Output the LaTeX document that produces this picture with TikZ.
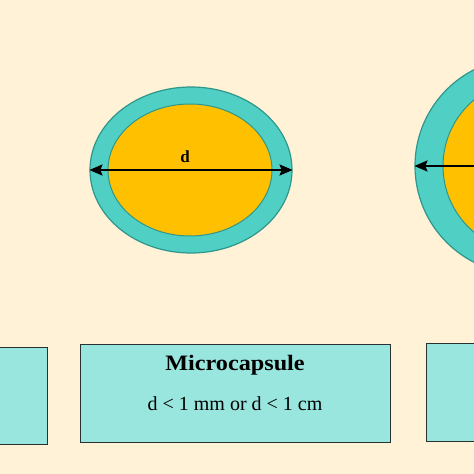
\documentclass[tikz,border=0pt]{standalone}
\usepackage{fontspec}
\setmainfont{Liberation Serif}
\usetikzlibrary{shapes.geometric,arrows.meta}
\definecolor{bgcream}{RGB}{255,242,214}
\definecolor{shell}{RGB}{80,208,196}
\definecolor{shelledge}{RGB}{46,150,140}
\definecolor{core}{RGB}{255,192,0}
\definecolor{boxfill}{RGB}{152,230,222}
\definecolor{boxedge}{RGB}{40,50,50}
\tikzset{
  shellnode/.style={ellipse,draw=shelledge,line width=1.2pt,fill=shell,inner sep=0pt},
  corenode/.style={ellipse,draw=shelledge,line width=1pt,fill=core,inner sep=0pt},
  infobox/.style={rectangle,draw=boxedge,line width=1pt,fill=boxfill,inner sep=0pt},
  dimarrow/.style={line width=2pt,{Stealth[length=13pt,width=11pt,inset=2pt]}-{Stealth[length=13pt,width=11pt,inset=2pt]}},
  leftarrow/.style={line width=2pt,{Stealth[length=13pt,width=11pt,inset=2pt]}-},
}
\begin{document}
\begin{tikzpicture}[x=1pt,y=-1pt]
\clip (0,0) rectangle (474,474);
\fill[bgcream] (0,0) rectangle (474,474);
% left capsule
\node[shellnode,minimum width=202pt,minimum height=166pt] (outerL) at (191,170) {};
\node[corenode,minimum width=164pt,minimum height=132pt] (coreL) at (190,170) {};
\draw[dimarrow] (outerL.west) -- (outerL.east);
\node[font=\fontsize{17}{19}\selectfont\bfseries] (dL) at (185,157) {d};
% right capsule (partially visible)
\node[shellnode,minimum width=216pt,minimum height=216pt] (outerR) at (523,166) {};
\node[corenode,minimum width=172pt,minimum height=172pt] (coreR) at (529,166) {};
\draw[leftarrow] (outerR.west) -- (outerR.east);
% boxes
\node[infobox,minimum width=147pt,minimum height=97pt] (boxL) at (-26.5,395.5) {};
\node[infobox,minimum width=310pt,minimum height=98pt] (boxM) at (235,393) {};
\node[infobox,minimum width=310pt,minimum height=98pt] (boxR) at (581,392) {};
\node[font=\fontsize{22}{24}\selectfont\bfseries,xscale=1.1] (title) at (235,365) {Microcapsule};
\node[font=\fontsize{20}{22}\selectfont] (sub) at (235,404) {d < 1 mm or d < 1 cm};
\end{tikzpicture}
\end{document}
